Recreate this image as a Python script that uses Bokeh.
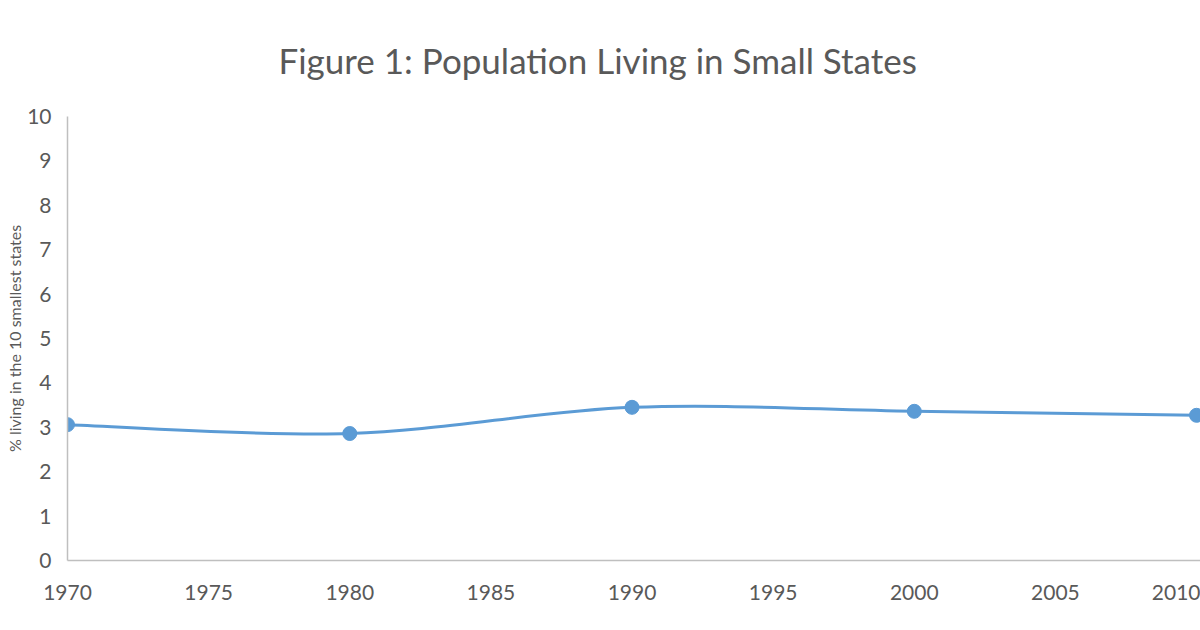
from bokeh.plotting import figure
from bokeh.models import Range1d, SingleIntervalTicker
from bokeh.embed import file_html
from bokeh.resources import INLINE

# ---- data ----
years = [1970, 1980, 1990, 2000, 2010]
pct_small_states = [3.06, 2.86, 3.45, 3.36, 3.27]
title_text = "Figure 1: Population Living in Small States"
y_label_text = "% living in the 10 smallest states"

# ---- layout ----
W, H = 1200, 630
LEFT, TOP, BOTTOM, RIGHT = 67, 113, 70, 0
X0, X1 = 1970, 2010.14
Y0, Y1 = 0, 10

BLUE = "#5B9BD5"
GREY_TXT = "#595959"
AXIS = "#BFBFBF"
FONT = "Lato"

p = figure(width=W, height=H, output_backend="svg", toolbar_location=None,
           x_range=Range1d(X0, X1), y_range=Range1d(Y0, Y1),
           min_border_left=LEFT, min_border_top=TOP,
           min_border_bottom=BOTTOM, min_border_right=RIGHT)
p.outline_line_color = None
p.xgrid.grid_line_color = None
p.ygrid.grid_line_color = None
p.background_fill_color = "white"
p.border_fill_color = "white"

p.title.text = title_text
p.title.align = "left"
p.title.offset = 211
p.title.text_font = FONT
p.title.text_font_size = "35px"
p.title.text_font_style = "normal"
p.title.text_color = GREY_TXT
p.title.vertical_align = "bottom"
p.title.standoff = 72

for ax in (p.xaxis[0], p.yaxis[0]):
    ax.axis_line_color = AXIS
    ax.axis_line_width = 1.5
    ax.major_tick_line_color = None
    ax.minor_tick_line_color = None
    ax.major_tick_out = 0
    ax.major_tick_in = 0
    ax.minor_tick_out = 0
    ax.major_label_text_color = GREY_TXT
    ax.major_label_text_font = FONT
    ax.major_label_text_font_size = "21px"

p.xaxis[0].ticker = SingleIntervalTicker(interval=5)
p.yaxis[0].ticker = SingleIntervalTicker(interval=1)
p.xaxis[0].major_label_standoff = 24
p.yaxis[0].major_label_standoff = 16
p.yaxis[0].axis_label = y_label_text
p.yaxis[0].axis_label_text_font = FONT
p.yaxis[0].axis_label_text_font_size = "16px"
p.yaxis[0].axis_label_text_font_style = "normal"
p.yaxis[0].axis_label_text_color = GREY_TXT
p.yaxis[0].axis_label_standoff = 0

# smooth line (Excel-style smoothing via cubic Bezier segments)
n = len(years)
pts = list(zip(years, pct_small_states))
def P(i):
    return pts[max(0, min(n - 1, i))]
x0s, y0s, x1s, y1s, cx0, cy0, cx1, cy1 = [], [], [], [], [], [], [], []
for i in range(n - 1):
    pa, pb, pm, pn = P(i), P(i + 1), P(i - 1), P(i + 2)
    x0s.append(pa[0]); y0s.append(pa[1])
    x1s.append(pb[0]); y1s.append(pb[1])
    cx0.append(pa[0] + (pb[0] - pm[0]) / 6); cy0.append(pa[1] + (pb[1] - pm[1]) / 6)
    cx1.append(pb[0] - (pn[0] - pa[0]) / 6); cy1.append(pb[1] - (pn[1] - pa[1]) / 6)
p.bezier(x0=x0s, y0=y0s, x1=x1s, y1=y1s, cx0=cx0, cy0=cy0, cx1=cx1, cy1=cy1,
         line_color=BLUE, line_width=3)
p.scatter(years, pct_small_states, size=14, fill_color=BLUE, line_color=BLUE)

open("out.html", "w").write(file_html(p, INLINE))
